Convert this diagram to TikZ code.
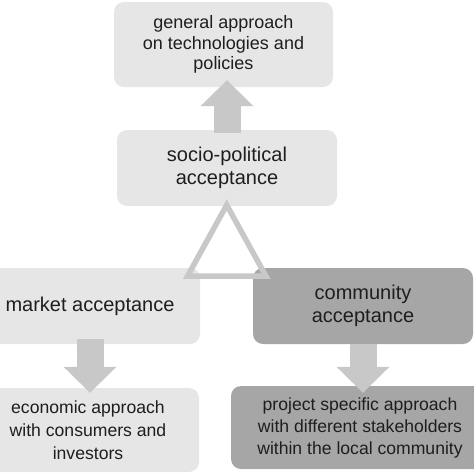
\documentclass[tikz,border=0pt]{standalone}
\usepackage{fontspec}
\setmainfont{Liberation Sans}
\usetikzlibrary{arrows.meta}
\definecolor{boxlight}{RGB}{230,230,230}
\definecolor{boxdark}{RGB}{166,166,166}
\definecolor{arrowgray}{RGB}{200,200,200}
\definecolor{textgray}{RGB}{30,30,30}

\begin{document}
\begin{tikzpicture}[x=1pt,y=-1pt,
  lightbox/.style={fill=boxlight, rounded corners=10pt, inner sep=0pt, align=center, text=textgray},
  darkbox/.style={lightbox, fill=boxdark},
  blockarrow/.style={arrowgray, line width=27pt, -{Triangle[length=26pt,width=53pt,line width=0pt 0 0]}}]
\useasboundingbox (0,0) rectangle (474,474);
\clip (0,0) rectangle (474,474);

% boxes:
\node[lightbox, minimum width=219pt, minimum height=85pt, font=\fontsize{18}{20.3}\selectfont] (general) at (223.5,44.5) {general approach\\on technologies and\\policies};
\node[lightbox, minimum width=220pt, minimum height=76pt, font=\fontsize{20}{23.3}\selectfont] (socio) at (227,168) {socio-political\\acceptance};
\node[lightbox, minimum width=220pt, minimum height=76pt, font=\fontsize{20}{22.6}\selectfont] (market) at (90,306) {market acceptance};
\node[darkbox, minimum width=220pt, minimum height=76pt, font=\fontsize{20}{22.6}\selectfont] (community) at (363,306) {community\\acceptance};
\node[lightbox, minimum width=222pt, minimum height=84pt, font=\fontsize{17.6}{23}\selectfont] (economic) at (88,430) {economic approach\\with consumers and\\investors};
\node[darkbox, minimum width=258pt, minimum height=83pt, font=\fontsize{17.6}{22}\selectfont] (project) at (360,427.5) {project specific approach\\with different stakeholders\\within the local community};

% block arrows:
\draw[blockarrow] ([yshift=-3pt]socio.north) -- ([yshift=7pt]socio.north |- general.south);
\draw[blockarrow] ([yshift=5pt]market.south) -- ([yshift=-5pt]market.south |- economic.north);
\draw[blockarrow] (community.south) -- ([yshift=-7pt]community.south |- project.north);

% triangle:
\draw[arrowgray, line width=5.5pt] (226.7,205) -- (187.5,276.2) -- (266,276.2) -- cycle;

\end{tikzpicture}
\end{document}
